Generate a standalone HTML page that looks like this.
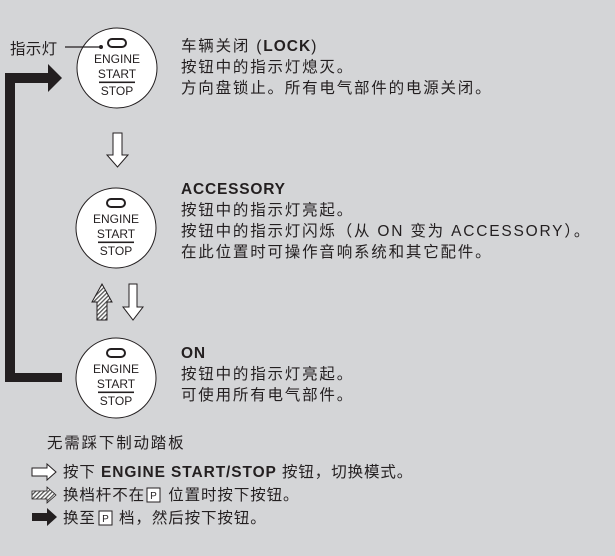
<!DOCTYPE html>
<html><head><meta charset="utf-8"><style>
body{margin:0;background:#d4d5d7;}
svg{display:block}
text{font-family:"Liberation Sans","Noto Sans CJK SC",sans-serif;fill:#231f20}
.t{font-size:15.5px;letter-spacing:1.8px}
.l{font-size:15.5px;letter-spacing:0.9px}
.b{font-weight:bold}
.k{font-size:12px;text-anchor:middle}
</style></head><body>
<svg width="615" height="556" viewBox="0 0 615 556" xmlns="http://www.w3.org/2000/svg">
<defs>
<pattern id="h" width="3" height="3" patternUnits="userSpaceOnUse" patternTransform="rotate(45)">
<rect width="3" height="3" fill="#fff"/><rect width="1.3" height="3" fill="#555"/></pattern>
<g id="btn">
<circle r="40" fill="#fff" stroke="#231f20" stroke-width="1"/>
<rect x="-9" y="-29" width="18" height="8" rx="4" fill="#fff" stroke="#231f20" stroke-width="2"/>
<text class="k" y="-5">ENGINE</text>
<text class="k" y="10">START</text>
<rect x="-18" y="13.5" width="36" height="1.6" fill="#231f20"/>
<text class="k" y="27">STOP</text>
</g>
</defs>
<rect width="615" height="556" fill="#d4d5d7"/>
<path d="M5 73 H48 V64 L62 78 L48 92 V83 H15 V373 H62 V382 H5 Z" fill="#231f20"/>
<use href="#btn" x="117" y="68"/>
<use href="#btn" x="116" y="228"/>
<use href="#btn" x="116" y="378"/>
<text class="l" x="10" y="54" style="letter-spacing:0.3px">指示灯</text>
<line x1="65" y1="47" x2="100" y2="47" stroke="#231f20" stroke-width="1.2"/>
<circle cx="101" cy="47" r="2" fill="#231f20"/>
<path d="M113 133 H122 V155 H128 L117.5 167 L107 155 H113 Z" fill="#fff" stroke="#231f20" stroke-width="1"/>
<path d="M97 320 V302 H92 L102 284 L112 302 H107 V320 Z" fill="url(#h)" stroke="#231f20" stroke-width="1"/>
<path d="M129 284 H137 V307 H143 L133 320 L123 307 H129 Z" fill="#fff" stroke="#231f20" stroke-width="1"/>
<text class="t" x="181" y="51">车辆关闭 (<tspan class="b" style="letter-spacing:1px">LOCK</tspan>)</text>
<text class="t" x="181" y="72">按钮中的指示灯熄灭。</text>
<text class="t" x="181" y="93">方向盘锁止。所有电气部件的电源关闭。</text>
<text class="t b" x="181" y="194" style="letter-spacing:0.8px">ACCESSORY</text>
<text class="t" x="181" y="215">按钮中的指示灯亮起。</text>
<text class="t" x="181" y="236">按钮中的指示灯闪烁（从 ON 变为 ACCESSORY）。</text>
<text class="t" x="181" y="257">在此位置时可操作音响系统和其它配件。</text>
<text class="t b" x="181" y="358" style="letter-spacing:0.8px">ON</text>
<text class="t" x="181" y="379">按钮中的指示灯亮起。</text>
<text class="t" x="181" y="400">可使用所有电气部件。</text>
<text class="t" x="47" y="448">无需踩下制动踏板</text>
<path d="M32 468 H47 V464 L56 472 L47 480 V476 H32 Z" fill="#fff" stroke="#231f20" stroke-width="1"/>
<path d="M32 491 H47 V487 L56 495 L47 503 V499 H32 Z" fill="url(#h)" stroke="#231f20" stroke-width="0.8"/>
<path d="M32 513 H47 V508 L57 517 L47 526 V521 H32 Z" fill="#231f20"/>
<text class="l" x="63" y="477">按下 <tspan class="b">ENGINE START/STOP</tspan> 按钮，切换模式。</text>
<text class="l" x="63" y="500">换档杆不在 <tspan dx="18">位置时按下按钮。</tspan></text>
<rect x="147" y="488" width="13" height="14" fill="#fff" stroke="#231f20"/>
<text x="153.5" y="499" style="font-size:10px;text-anchor:middle">P</text>
<text class="l" x="63" y="523">换至 <tspan dx="18">档，然后按下按钮。</tspan></text>
<rect x="99" y="511" width="13" height="14" fill="#fff" stroke="#231f20"/>
<text x="105.5" y="522" style="font-size:10px;text-anchor:middle">P</text>
</svg>
</body></html>
